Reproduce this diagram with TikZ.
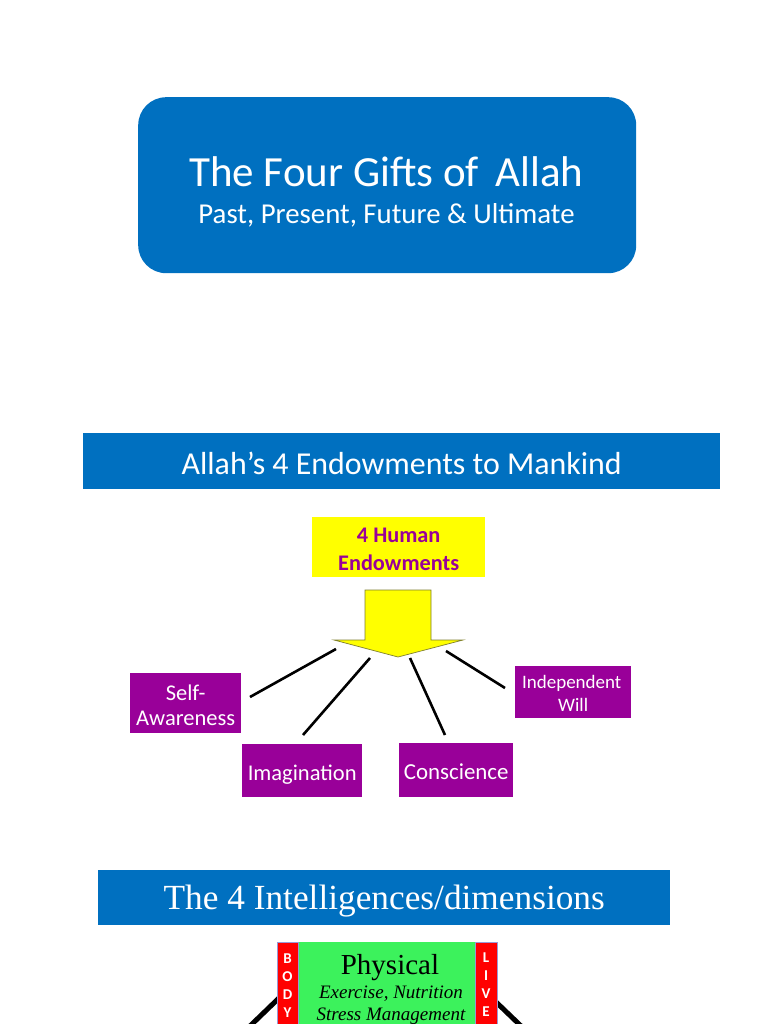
\documentclass[tikz,border=0pt]{standalone}
\usepackage{fontspec}
\setmainfont{Carlito}
\newfontfamily\serifface{Liberation Serif}
\definecolor{bluebar}{HTML}{0070C0}
\definecolor{purplebox}{HTML}{990099}
\definecolor{greenbox}{HTML}{3CF25C}
\definecolor{redbox}{HTML}{FF0000}
\definecolor{yellowbox}{HTML}{FFFF00}
\definecolor{arrowedge}{HTML}{7F7F30}
\newcommand{\boxat}[6]{\node[minimum width=#5-#3,minimum height=#6-#4,anchor=north west,#1] (#2) at (#3,#4)}
\newcommand{\dn}[2]{\raisebox{-#1}[\height][\depth]{#2}}
\tikzset{
  banner/.style={fill=bluebar,text=white,inner sep=0pt,align=center},
  purple/.style={fill=purplebox,text=white,inner sep=0pt,align=center,font=\fontsize{22.5}{25.5}\selectfont},
  link/.style={draw=black,line width=2.6pt},
  redside/.style={fill=redbox,draw=black!40!blue!40,line width=.5pt,inner sep=0pt},
  sideletters/.style={inner sep=0pt,text=white,align=center,font=\fontsize{15}{17.8}\selectfont\bfseries},
  physline/.style={inner sep=0pt,font=\fontsize{19}{22}\selectfont\serifface\itshape},
  arc/.style={draw=black,line width=5pt},
}
\begin{document}
\begin{tikzpicture}[x=1pt,y=-1pt]
\useasboundingbox[clip] (0,0) rectangle (768,1024);
\fill[white] (0,0) rectangle (768,1024);
% title
\node[fill=bluebar,rounded corners=28pt,minimum width=498pt,minimum height=176pt,inner sep=0pt,anchor=north west] (title) at (138,97) {};
\node[text=white,inner sep=0pt,font=\fontsize{43}{48}\selectfont] (titleA) at (386.5,172) {The Four Gifts of\, Allah};
\node[text=white,inner sep=0pt,font=\fontsize{28.8}{32}\selectfont] (titleB) at (386.5,215) {Past, Present, Future \& Ultimate};
% banner 1
\boxat{banner,font=\fontsize{31.9}{36}\selectfont}{bannerA}{83}{433}{720}{489} {\dn{2pt}{Allah’s 4 Endowments to Mankind}};
% endowments
\boxat{fill=yellowbox,text=purplebox,inner sep=0pt,align=center,font=\fontsize{22.3}{28}\selectfont\bfseries}{human}{312}{517}{485}{577} {\dn{2pt}{4 Human}\\\dn{2pt}{Endowments}};
\draw[fill=yellowbox,draw=arrowedge,line width=.7pt] (365,590) -- (431,590) -- (431,640) -- (463,640) -- (398,657) -- (334,640) -- (365,640) -- cycle;
\boxat{purple}{self}{130}{673}{241}{733} {\dn{2pt}{Self-}\\\dn{2pt}{Awareness}};
\boxat{purple}{imag}{242}{744}{362}{797} {\dn{4pt}{Imagination}};
\boxat{purple,font=\fontsize{22.9}{27}\selectfont}{consc}{399}{743}{513}{797} {\dn{1pt}{Conscience}};
\boxat{purple,font=\fontsize{19}{23}\selectfont}{indep}{515}{666}{631}{718} {\dn{1pt}{\hspace*{-3pt}Independent}\\\dn{1pt}{Will}};
\coordinate (a1) at (336,649); \coordinate (b1) at (250,697);
\coordinate (a2) at (370,658); \coordinate (b2) at (303,735);
\coordinate (a3) at (410,658); \coordinate (b3) at (445,735);
\coordinate (a4) at (446,651); \coordinate (b4) at (505,688);
\draw[link] (a1) -- (b1);
\draw[link] (a2) -- (b2);
\draw[link] (a3) -- (b3);
\draw[link] (a4) -- (b4);
% banner 2
\boxat{banner,font=\fontsize{35.3}{40}\selectfont\serifface}{bannerB}{98}{870}{670}{925} {\dn{3pt}{The 4 Intelligences/dimensions}};
% circle arcs behind physical box
\coordinate (arcL) at (279,998); \coordinate (arcLb) at (250,1026);
\coordinate (arcR) at (495,1001); \coordinate (arcRb) at (521,1026);
\draw[arc] (arcL) -- (arcLb);
\draw[arc] (arcR) -- (arcRb);
% physical
\boxat{fill=greenbox,inner sep=0pt}{phys}{298}{942}{475}{1024} {};
\node[inner sep=0pt,font=\fontsize{29}{32}\selectfont\serifface] (physA) at (390,968) {Physical};
\node[physline] (physB) at (391,994) {Exercise, Nutrition};
\node[physline] (physC) at (391,1016) {Stress Management};
\boxat{redside}{body}{277}{942}{298}{1024} {};
\boxat{redside}{live}{475}{942}{497}{1024} {};
\node[sideletters] (bodyT) at (287.5,985.5) {B\\O\\D\\Y};
\node[sideletters] (liveT) at (486,984.5) {L\\I\\V\\E};
\end{tikzpicture}
\end{document}
